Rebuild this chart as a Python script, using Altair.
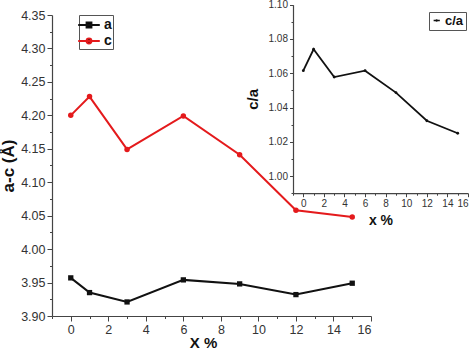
import altair as alt
import pandas as pd

# ---- data ----
x_pct = [0, 1, 3, 6, 9, 12, 15]
a_vals = [3.957, 3.935, 3.921, 3.954, 3.948, 3.932, 3.949]
c_vals = [4.200, 4.228, 4.149, 4.199, 4.141, 4.058, 4.048]
ca_vals = [1.0615, 1.0740, 1.0578, 1.0615, 1.0487, 1.0323, 1.0250]

main_x_ticks = list(range(-1, 17))
main_y_ticks = [round(3.90 + 0.025 * i, 3) for i in range(19)]
inset_x_ticks = list(range(-1, 17))
inset_y_ticks = [round(0.99 + 0.01 * i, 2) for i in range(12)]

df = pd.DataFrame({
    "x": x_pct * 2,
    "v": a_vals + c_vals,
    "series": ["a"] * len(x_pct) + ["c"] * len(x_pct),
})
dfi = pd.DataFrame({"x": x_pct, "ca": ca_vals, "series": ["c/a"] * len(x_pct)})

W, H = 319, 301
BLACK = "#111111"
RED = "#e41a1c"
FONT = "Liberation Sans"

SQ = "M-1.35,0H1.35M-0.3,-0.3H0.3V0.3H-0.3Z"
CI = "M-1.35,0H1.35M0.3,0A0.3,0.3,0,1,1,-0.3,0A0.3,0.3,0,1,1,0.3,0Z"
DOT = "M-1,0H0.6M-0.1,0A0.12,0.12,0,1,1,-0.34,0A0.12,0.12,0,1,1,-0.1,0Z"

xscale = alt.Scale(domain=[-1, 16], nice=False)
yscale = alt.Scale(domain=[3.90, 4.35], nice=False, zero=False)

main_x_axis = alt.Axis(
    values=main_x_ticks, title="X %", labelOverlap=False,
    labelExpr="(datum.value % 2 == 0 && datum.value >= 0) ? format(datum.value, 'd') : ''",
    tickSize={"condition": {"test": "datum.value % 2 != 0", "value": 2.5}, "value": 5},
    labelFontSize=12.5, titleFontSize=15, titleY=26, titleX=151,
    titleBaseline="middle", labelPadding=2,
)
main_y_axis = alt.Axis(
    values=main_y_ticks, title="a-c (Å)", labelOverlap=False,
    labelExpr="round(datum.value*1000) % 50 == 0 ? format(datum.value, '.2f') : ''",
    tickSize={"condition": {"test": "round(datum.value*1000) % 50 != 0", "value": 2.5}, "value": 5},
    labelFontSize=12.5, titleFontSize=17, titlePadding=3, labelPadding=2,
)

X = alt.X("x:Q", scale=xscale, axis=main_x_axis)
Y = alt.Y("v:Q", scale=yscale, axis=main_y_axis)

color_scale = alt.Scale(domain=["a", "c"], range=[BLACK, RED])

lines = alt.Chart(df).mark_line(strokeWidth=2).encode(
    x=X, y=Y,
    color=alt.Color("series:N", scale=color_scale, legend=None),
)
pts_a = alt.Chart(df).transform_filter("datum.series == 'a'").mark_square(
    size=28, color=BLACK, opacity=1
).encode(x=X, y=Y)
pts_c = alt.Chart(df).transform_filter("datum.series == 'c'").mark_circle(
    size=30, color=RED, opacity=1
).encode(x=X, y=Y)

leg = alt.Legend(
    title=None, orient="none", legendX=27, legendY=0,
    labelFontSize=14, labelFontWeight="bold", labelFont=FONT, labelColor="#111",
    symbolSize=256, symbolStrokeWidth=2, rowPadding=0, padding=1,
    strokeColor="#555", labelOffset=6,
)
legend_layer = alt.Chart(df).transform_filter("false").mark_point(
    filled=True, strokeWidth=2, opacity=1
).encode(
    x=X, y=Y,
    color=alt.Color("series:N", scale=color_scale, legend=leg),
    stroke=alt.Stroke("series:N", scale=color_scale, legend=leg),
    shape=alt.Shape("series:N", scale=alt.Scale(domain=["a", "c"], range=[SQ, CI]), legend=leg),
)
main = alt.layer(lines, pts_a, pts_c, legend_layer)

# ---- inset ----
IX0, IX1 = 241, 416
IY0, IY1 = 178.2, -10.3
ixscale = alt.Scale(domain=[-1, 16], range=[IX0, IX1], nice=False)
iyscale = alt.Scale(domain=[0.99, 1.10], range=[IY0, IY1], nice=False, zero=False)

inset_x_axis = alt.Axis(
    values=inset_x_ticks, title="x %", orient="bottom", offset=-(H - IY0), labelOverlap=False,
    labelExpr="(datum.value % 2 == 0 && datum.value >= 0) ? format(datum.value, 'd') : ''",
    tickSize={"condition": {"test": "datum.value % 2 != 0", "value": 2}, "value": 3.5},
    labelFontSize=10, titleFontSize=14, titlePadding=5, labelPadding=2,
)
inset_y_axis = alt.Axis(
    values=inset_y_ticks, title="c/a", orient="left", offset=-IX0, labelOverlap=False,
    labelExpr="round(datum.value*100) % 2 == 0 ? format(datum.value, '.2f') : ''",
    tickSize={"condition": {"test": "round(datum.value*100) % 2 != 0", "value": 2}, "value": 3.5},
    labelFontSize=10, titleFontSize=15, titlePadding=8, labelPadding=2,
)

inset_line = alt.Chart(dfi).mark_line(strokeWidth=1.8, point=alt.OverlayMarkDef(filled=True, size=8, color=BLACK)).encode(
    x=alt.X("x:Q", scale=ixscale, axis=inset_x_axis),
    y=alt.Y("ca:Q", scale=iyscale, axis=inset_y_axis),
    color=alt.Color(
        "series:N", scale=alt.Scale(domain=["c/a"], range=[BLACK]),
        legend=alt.Legend(
            title=None, orient="none", legendX=377, legendY=-3,
            labelFontSize=13, labelFontWeight="bold", labelFont=FONT, labelColor="#111",
            symbolType=DOT, symbolSize=60, symbolStrokeWidth=1.5, padding=2,
            symbolFillColor=BLACK, strokeColor="#555", labelOffset=1,
        ),
    ),
)

chart = alt.layer(main, inset_line).resolve_scale(
    x="independent", y="independent", color="independent"
).resolve_axis(x="independent", y="independent").properties(
    width=W, height=H,
    autosize=alt.AutoSizeParams(type="none"),
    padding={"left": 52, "top": 15, "right": 103, "bottom": 33},
).configure_view(stroke=None).configure_axis(
    grid=False, domainColor="#444", tickColor="#444", labelColor="#333",
    titleColor="#111", labelFont=FONT, titleFont=FONT, titleFontWeight="bold",
    domainWidth=1.2,
)

chart.save("out.html", embed_options={"renderer": "svg", "actions": False})
